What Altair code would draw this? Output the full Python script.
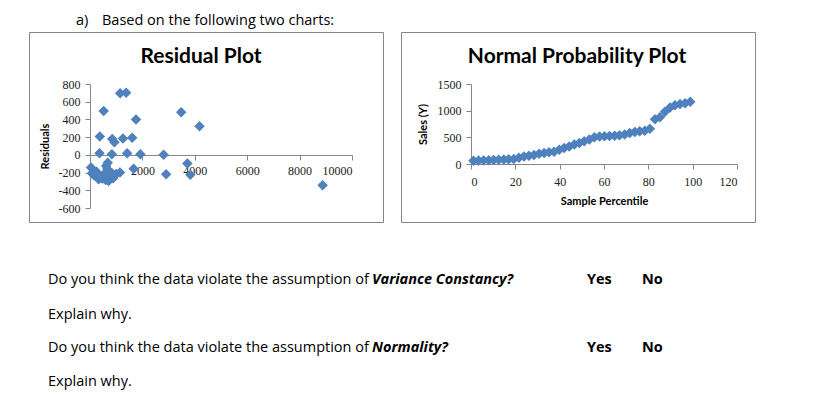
import altair as alt
import pandas as pd

# ---------------- data ----------------
resid_x = [1150, 1380, 520, 1756, 3480, 4180, 375, 850, 930, 1258,
           1610, 365, 835, 1418, 1922, 2810, 38, 615, 677, 1667,
           3715, 3830, 2905, 1143, 75, 300, 700, 830, 712, 460,
           8880, 200, 520, 600, 760, 900, 420, 250, 560, 150,
           880, 660, 330, 1000]
resid_y = [695, 702, 495, 398, 480, 322, 206, 178, 142, 184,
           192, 17, 8, 17, 8, 0, -143, -125, -88, -158,
           -98, -224, -220, -200, -208, -238, -250, -204, -294, -268,
           -342, -215, -262, -285, -225, -230, -250, -190, -210, -230,
           -265, -160, -275, -215]

pct = [1.1, 3.4, 5.7, 8.0, 10.2, 12.5, 14.8, 17.0, 19.3, 21.6,
       23.9, 26.1, 28.4, 30.7, 33.0, 35.2, 37.5, 39.8, 42.0, 44.3,
       46.6, 48.9, 51.1, 53.4, 55.7, 58.0, 60.2, 62.5, 64.8, 67.0,
       69.3, 71.6, 73.9, 76.1, 78.4, 80.7, 83.0, 85.2, 87.5, 89.8,
       92.0, 94.3, 96.6, 98.9]
sales = [60, 65, 68, 72, 75, 80, 85, 90, 95, 115,
         140, 155, 170, 190, 205, 220, 230, 265, 300, 330,
         365, 395, 425, 460, 500, 515, 520, 525, 530, 540,
         555, 580, 600, 615, 625, 660, 840, 875, 980, 1060,
         1100, 1125, 1140, 1165]

resid_ticks_x = [0, 2000, 4000, 6000, 8000, 10000]
resid_ticks_y = [-600, -400, -200, 0, 200, 400, 600, 800]
npp_ticks_x = [0, 20, 40, 60, 80, 100, 120]
npp_ticks_y = [0, 500, 1000, 1500]

title_left = "Residual Plot"
title_right = "Normal Probability Plot"
header_a = "a)"
header_text = "Based on the following two charts:"
q_prefix = "Do you think the data violate the assumption of"
q1_term = "Variance Constancy?"
q2_term = "Normality?"
explain = "Explain why."

# ---------------- style ----------------
BLUE = "#4F81BD"
GRAY = "#868686"
TICK_FONT = "Liberation Serif"
SANS = "Lato"
BODY = "Open Sans"
PW, PH = 354, 190

def axis(values, offset, title, **kw):
    return alt.Axis(values=values, offset=offset, title=title, grid=False,
                    domainColor=GRAY, tickColor=GRAY, tickSize=5,
                    labelFont=TICK_FONT, labelFontSize=12, labelColor="#222",
                    labelExpr="'' + datum.value",
                    titleFont=SANS, titleFontSize=11, titleFontWeight="bold",
                    titleColor="#000", **kw)

# ---------------- residual plot ----------------
df_r = pd.DataFrame({"x": resid_x, "y": resid_y})
left_pts = alt.Chart(df_r).mark_point(shape="diamond", filled=True, size=110,
                                      color=BLUE, opacity=1).encode(
    x=alt.X("x:Q", scale=alt.Scale(domain=[0, 10000], range=[61, 323], nice=False, zero=False),
            axis=axis(resid_ticks_x, -67, None, labelPadding=5)),
    y=alt.Y("y:Q", scale=alt.Scale(domain=[-600, 800], range=[176, 52], nice=False, zero=False),
            axis=axis(resid_ticks_y, -61, "Residuals", labelPadding=5, titlePadding=8)),
)
left_title = alt.Chart(pd.DataFrame({"t": [title_left]})).mark_text(
    font=SANS, fontSize=21, fontWeight="bold", color="#000", baseline="middle", align="center"
).encode(text="t:N", x=alt.value(172), y=alt.value(25))
left = alt.layer(left_pts, left_title).properties(
    width=PW, height=PH, view=alt.ViewBackground(stroke=GRAY, strokeWidth=1, fill="white"))

# ---------------- normal probability plot ----------------
df_n = pd.DataFrame({"p": pct, "s": sales})
right_pts = alt.Chart(df_n).mark_point(shape="diamond", filled=True, size=110,
                                       color=BLUE, opacity=1).encode(
    x=alt.X("p:Q", scale=alt.Scale(domain=[0, 120], range=[70, 336], nice=False, zero=False),
            axis=axis(npp_ticks_x, -58, "Sample Percentile", labelPadding=7, titlePadding=8)),
    y=alt.Y("s:Q", scale=alt.Scale(domain=[0, 1500], range=[132, 52], nice=False, zero=False),
            axis=axis(npp_ticks_y, -70, "Sales (Y)", labelPadding=5, titlePadding=9)),
)
right_title = alt.Chart(pd.DataFrame({"t": [title_right]})).mark_text(
    font=SANS, fontSize=21, fontWeight="bold", color="#000", baseline="middle", align="center"
).encode(text="t:N", x=alt.value(176), y=alt.value(25))
right = alt.layer(right_pts, right_title).properties(
    width=PW, height=PH, view=alt.ViewBackground(stroke=GRAY, strokeWidth=1, fill="white"))

# ---------------- header / footer text ----------------
def txt(s, x, y, weight="normal", style="normal", size=14.5):
    return alt.Chart(pd.DataFrame({"t": [s]})).mark_text(
        font=BODY, fontSize=size, fontWeight=weight, fontStyle=style, color="#000",
        align="left", baseline="middle"
    ).encode(text="t:N", x=alt.value(x), y=alt.value(y))

header = alt.layer(
    txt(header_a, 47, 12),
    txt(header_text, 73, 12),
).properties(width=724, height=21, view=alt.ViewBackground(stroke="transparent"))

footer = alt.layer(
    txt(q_prefix, 19, 56),
    txt(q1_term, 343, 56, weight="bold", style="italic"),
    txt("Yes", 558, 56, weight="bold"),
    txt("No", 613, 56, weight="bold"),
    txt(explain, 19, 91),
    txt(q_prefix, 19, 124),
    txt(q2_term, 343, 124, weight="bold", style="italic"),
    txt("Yes", 558, 124, weight="bold"),
    txt("No", 613, 124, weight="bold"),
    txt(explain, 19, 158),
).properties(width=724, height=170, view=alt.ViewBackground(stroke="transparent"))

chart = alt.vconcat(
    header,
    alt.hconcat(left, right, spacing=16),
    footer,
    spacing=0,
).properties(
    padding={"left": 20, "top": 0, "right": 0, "bottom": 0}
).configure_view(stroke=None).configure(background="white")

chart.save("out.html", embed_options={"renderer": "svg", "actions": False})
